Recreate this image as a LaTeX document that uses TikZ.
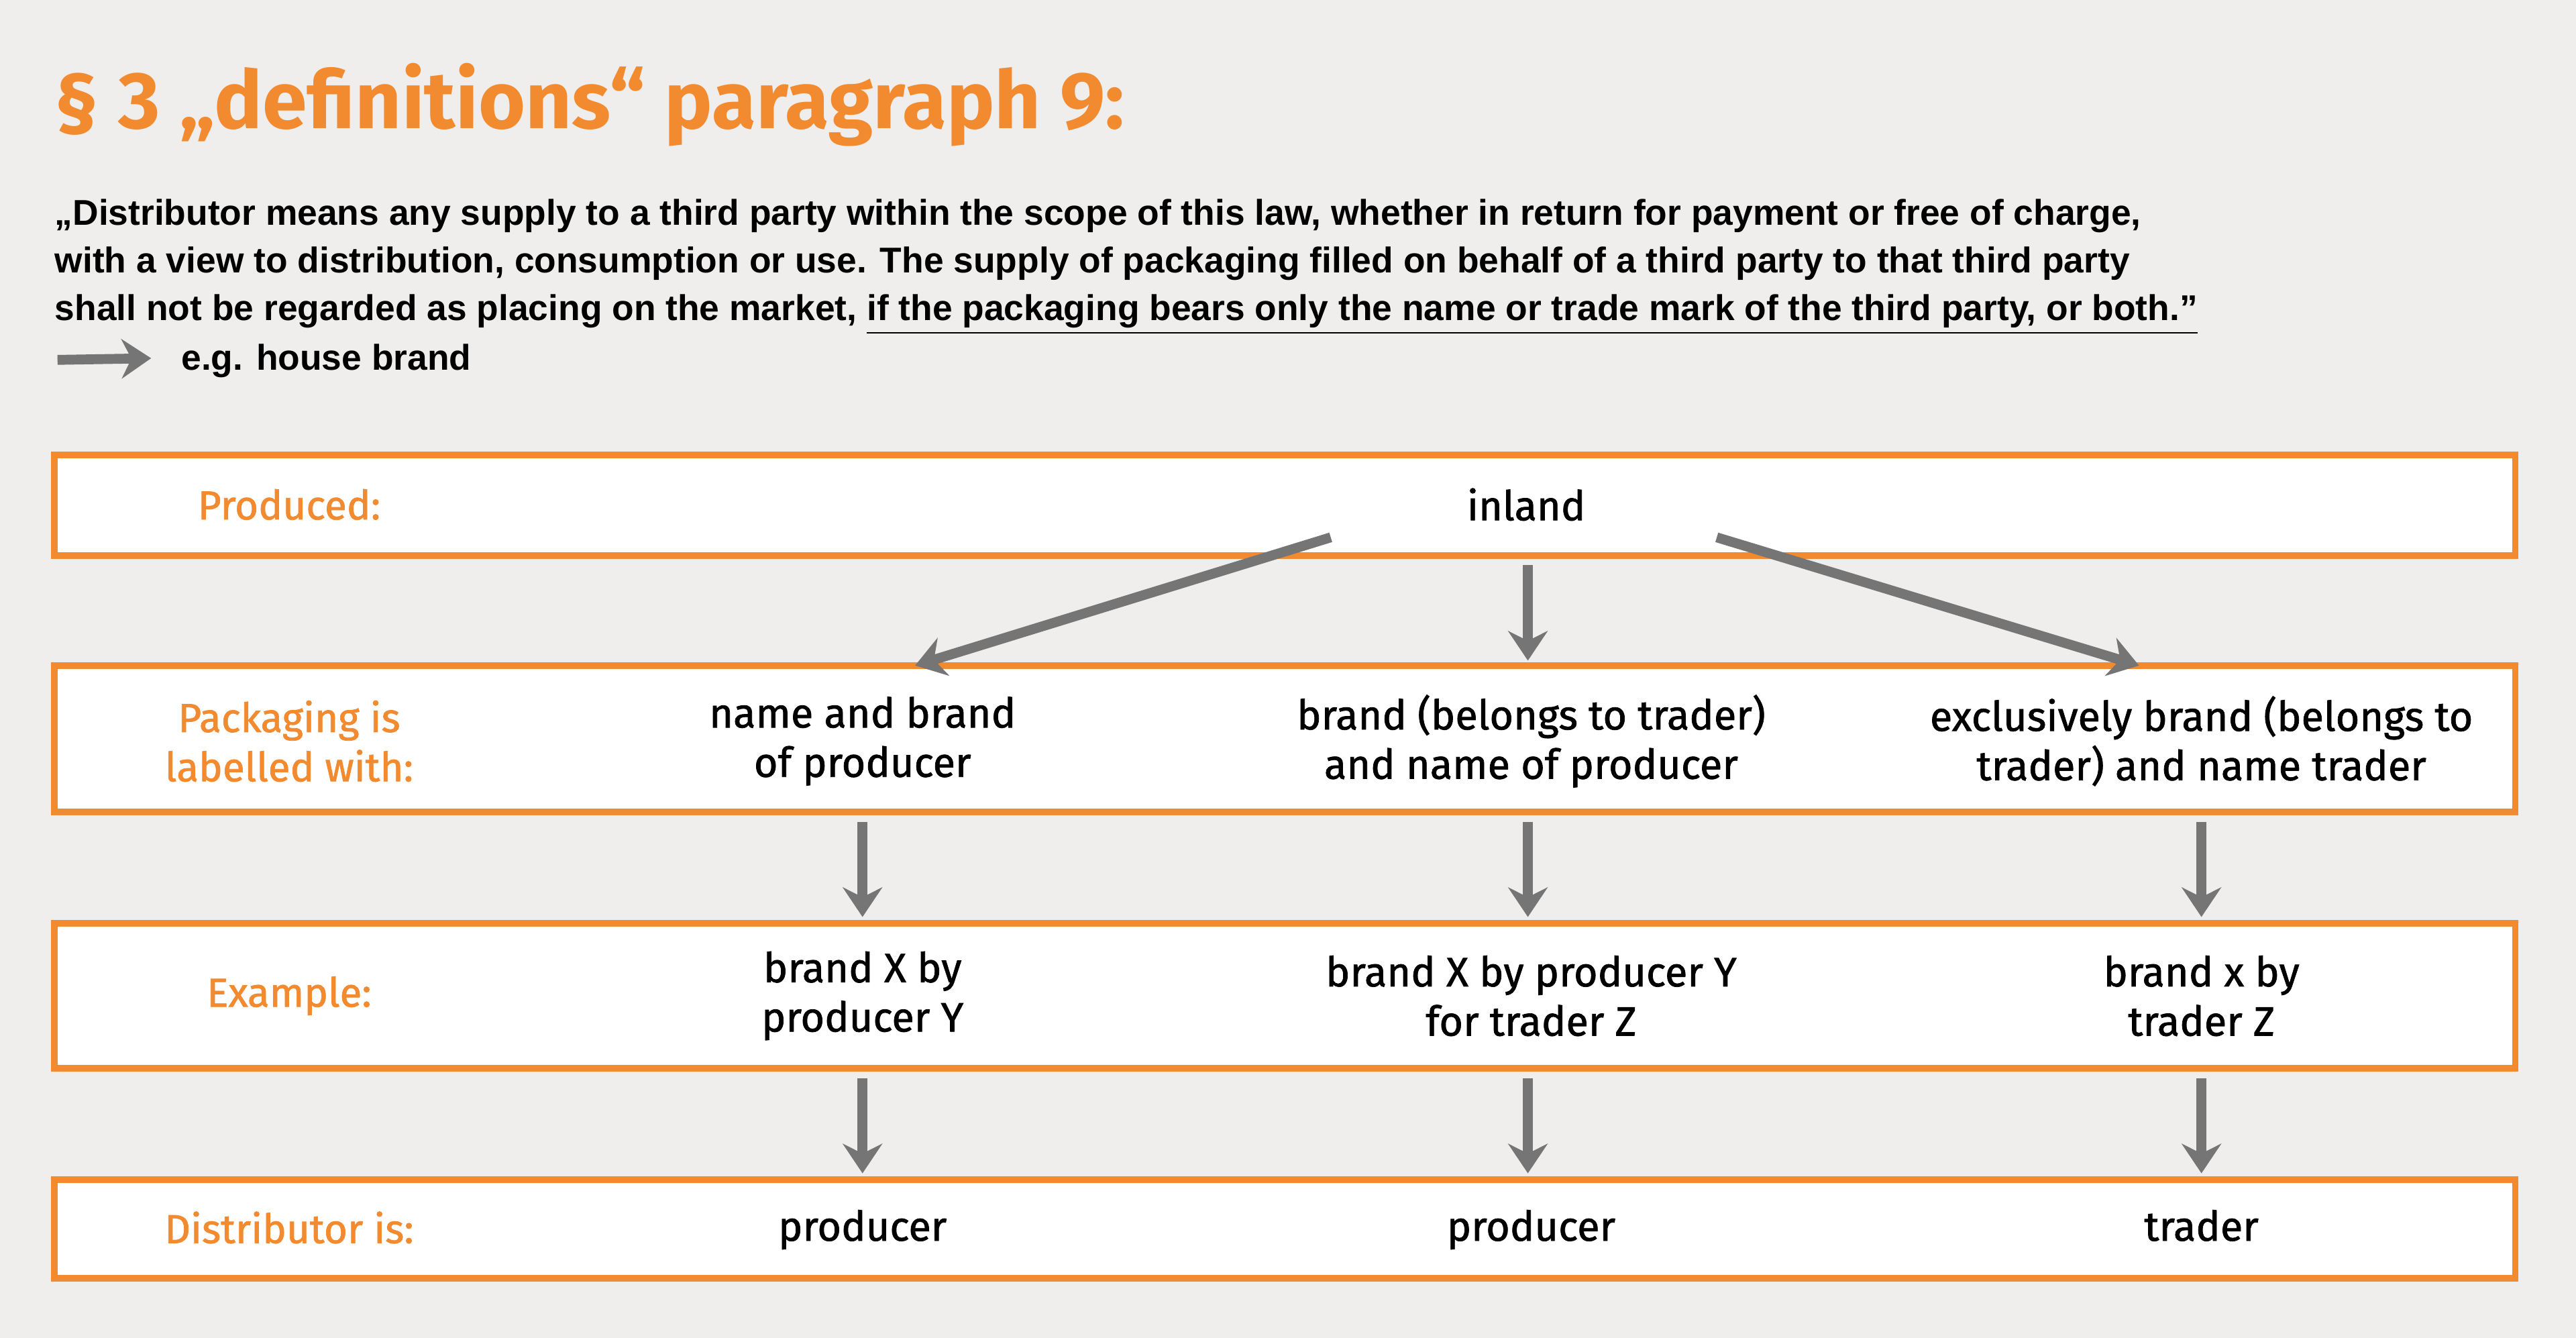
\documentclass[tikz,border=0pt]{standalone}
\usepackage{fontspec}
\setmainfont{Fira Sans}
\newfontfamily\medfont[FakeBold=1.2]{Fira Sans}
\newfontfamily\parafont{Liberation Sans}
\usetikzlibrary{arrows.meta}
\definecolor{bg}{HTML}{EFEEEC}
\definecolor{org}{HTML}{F28A30}
\definecolor{arr}{HTML}{757575}
\begin{document}
\begin{tikzpicture}[x=0.5pt,y=-0.5pt,
  rowbox/.style={draw=org,line width=2pt,fill=white},
  lbl/.style={text=org,font=\medfont\fontsize{12.3}{15}\selectfont,align=center},
  cell/.style={font=\medfont\fontsize{12.5}{15}\selectfont,align=center},
  para/.style={anchor=base west,font=\parafont\bfseries\fontsize{10.9}{12}\selectfont,inner sep=0},
  garrow/.style={draw=arr,line width=3pt,-{Stealth[length=9pt,width=12pt,inset=3pt]}}]
\fill[bg] (0,0) rectangle (1568,814);
\node[anchor=base west,inner sep=0,text=org,font=\fontsize{24.5}{28}\selectfont\bfseries] (title) at (33,78) {§ 3 „definitions“ paragraph 9:};
\node[para] (p1) at (33,137) {„Distributor means any supply to a third party within the scope of this law, whether in return for payment or free of charge,};
\node[para] (p2) at (33,166) {with a view to distribution, consumption or use. The supply of packaging filled on behalf of a third party to that third party};
\node[para] (p3) at (33,195) {shall not be regarded as placing on the market, \underline{if the packaging bears only the name or trade mark of the third party, or both.”}};
\coordinate (a0) at (35,219);
\coordinate (a1) at (92,218);
\draw[garrow] (a0) -- (a1);
\node[para] (eg) at (110,225) {e.g. house brand};
\draw[rowbox] (33,277) rectangle (1531,338);
\draw[rowbox] (33,405) rectangle (1531,494);
\draw[rowbox] (33,562) rectangle (1531,650);
\draw[rowbox] (33,718) rectangle (1531,778);
\node[lbl] (l1) at (176,307) {Produced:};
\node[lbl] (l2) at (176,451) {Packaging is\\labelled with:};
\node[lbl] (l3) at (176,606) {Example:};
\node[lbl] (l4) at (176,747) {Distributor is:};
\node[cell] (inland) at (929,307) {inland};
\node[cell] (c21) at (525,451) {name and brand\\of producer};
\node[cell] (c22) at (932,451) {brand (belongs to trader)\\and name of producer};
\node[cell] (c23) at (1340,451) {exclusively brand (belongs to\\trader) and name trader};
\node[cell] (c31) at (525,606) {brand X by\\producer Y};
\node[cell] (c32) at (932,606) {brand X by producer Y\\for trader Z};
\node[cell] (c33) at (1340,606) {brand x by\\trader Z};
\node[cell,anchor=base] (c41) at (525,755) {producer};
\node[cell,anchor=base] (c42) at (932,755) {producer};
\node[cell,anchor=base] (c43) at (1340,755) {trader};
\coordinate (s1) at (810,327); \coordinate (e1) at (557,405);
\coordinate (s2) at (930,344); \coordinate (e2) at (930,402);
\coordinate (s3) at (1045,327); \coordinate (e3) at (1302,405);
\draw[garrow] (s1) -- (e1);
\draw[garrow] (s2) -- (e2);
\draw[garrow] (s3) -- (e3);
\foreach \x in {525,930,1340}{
  \coordinate (u\x) at (\x,500); \coordinate (v\x) at (\x,558);
  \draw[garrow] (u\x) -- (v\x);
  \coordinate (w\x) at (\x,656); \coordinate (z\x) at (\x,714);
  \draw[garrow] (w\x) -- (z\x);
}
\end{tikzpicture}
\end{document}
